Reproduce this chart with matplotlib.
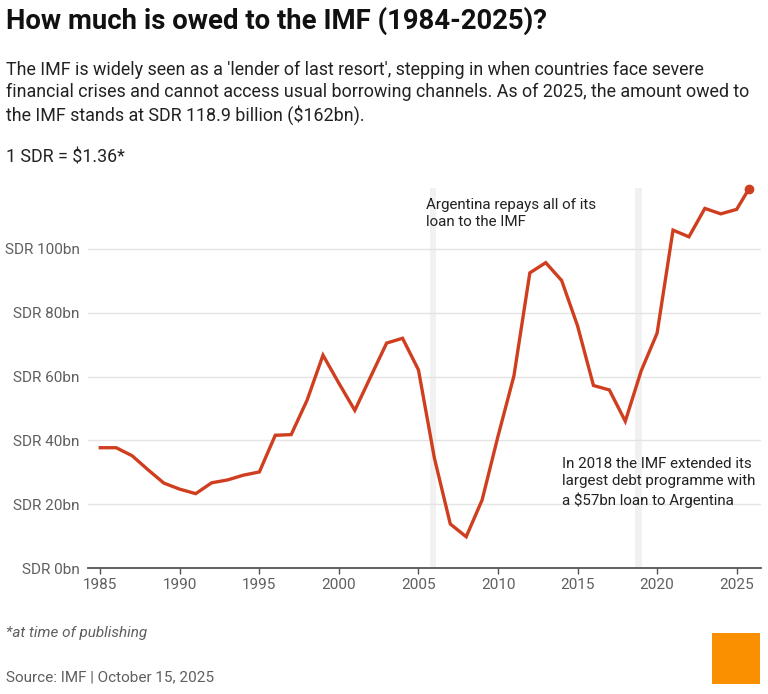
import matplotlib
matplotlib.use('Agg')
import matplotlib.pyplot as plt
from matplotlib.patches import Rectangle

plt.rcParams['font.family'] = ['Roboto', 'DejaVu Sans']

RED = '#CF3F1F'
GREY_TXT = '#5f5f5f'
GRID = '#e4e4e4'
BAND = '#f1f1f1'

years = list(range(1985, 2026)) + [2025.78]
owed = [37.7, 37.7, 35.2, 30.8, 26.6, 24.7, 23.3, 26.7, 27.6, 29.1,
        30.1, 41.6, 41.8, 52.6, 66.7, 57.9, 49.4, 60.0, 70.5, 72.0,
        62.1, 34.5, 13.8, 9.8, 21.3, 41.3, 60.2, 92.5, 95.7, 90.1,
        75.9, 57.2, 55.8, 46.0, 61.8, 73.6, 105.9, 103.8, 112.7, 111.0,
        112.4, 118.9]

bands = [(2005.75, 2006.1), (2018.6, 2019.05)]
yticks = [0, 20, 40, 60, 80, 100]
xticks = [1985, 1990, 1995, 2000, 2005, 2010, 2015, 2020, 2025]

W, H = 768, 694
fig = plt.figure(figsize=(W / 100, H / 100), dpi=100, facecolor='white')
ax = fig.add_axes([88 / W, (H - 568) / H, (761 - 88) / W, (568 - 188) / H])

for a, b in bands:
    ax.axvspan(a, b, color=BAND, zorder=0, lw=0)

ax.plot(years, owed, color=RED, linewidth=2.4, solid_joinstyle='miter', zorder=3)
ax.plot(years[-1], owed[-1], 'o', color=RED, markersize=6, zorder=4, clip_on=False)

ax.set_xlim(1984.23, 2026.53)
ax.set_ylim(0, 119.1)
ax.set_yticks(yticks)
ax.set_yticklabels([f'SDR {v}bn' for v in yticks])
ax.set_xticks(xticks)
ax.yaxis.grid(True, color=GRID, linewidth=1)
ax.set_axisbelow(True)
for s in ['top', 'right', 'left']:
    ax.spines[s].set_visible(False)
ax.spines['bottom'].set_color('#555555')
ax.spines['bottom'].set_linewidth(1.3)
ax.spines['bottom'].set_zorder(5)
ax.tick_params(axis='y', length=0, pad=6, labelsize=11, labelcolor=GREY_TXT)
ax.tick_params(axis='x', length=4.5, width=1, color='#555555', pad=3,
               labelsize=11, labelcolor=GREY_TXT)

ax.text(2005.47, 116.0, 'Argentina repays all of its\nloan to the IMF', fontsize=10.9,
        color='#222222', va='top', ha='left', linespacing=1.25)
ax.text(2014.02, 34.8, 'In 2018 the IMF extended its\nlargest debt programme with\na $57bn loan to Argentina',
        fontsize=10.9, color='#222222', va='top', ha='left', linespacing=1.3)

fig.text(6 / W, 1 - 21 / H, 'How much is owed to the IMF (1984-2025)?', fontsize=19.8,
         fontweight='bold', color='#111111', va='center', ha='left')
fig.text(6 / W, 1 - 61 / H,
         "The IMF is widely seen as a 'lender of last resort', stepping in when countries face severe\n"
         "financial crises and cannot access usual borrowing channels. As of 2025, the amount owed to\n"
         "the IMF stands at SDR 118.9 billion ($162bn).",
         fontsize=12.85, color='#222222', va='top', ha='left', linespacing=1.28)
fig.text(6 / W, 1 - 157 / H, '1 SDR = $1.36*', fontsize=12.85, color='#222222',
         va='center', ha='left')
fig.text(6 / W, 1 - 633 / H, '*at time of publishing', fontsize=11, style='italic',
         color=GREY_TXT, va='center', ha='left')
fig.text(6 / W, 1 - 677 / H, 'Source: IMF | October 15, 2025', fontsize=11,
         color=GREY_TXT, va='center', ha='left')

fig.patches.append(Rectangle((712 / W, 1 - 684 / H), 48 / W, 51 / H,
                             transform=fig.transFigure, facecolor='#FA9000',
                             edgecolor='none'))

fig.savefig('out.png', dpi=100, facecolor='white')
